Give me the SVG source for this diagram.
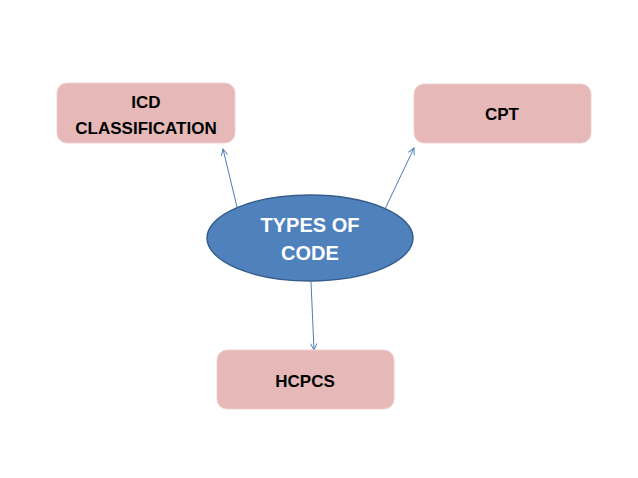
<svg xmlns="http://www.w3.org/2000/svg" width="638" height="478" viewBox="0 0 638 478">
<style>
.box{fill:#e6b9b8;stroke:#f0d0cf;stroke-width:1}
.lbl{font-family:"Liberation Sans",Arial,sans-serif;font-weight:bold;font-size:17px;fill:#000;text-anchor:middle}
.clbl{font-family:"Liberation Sans",Arial,sans-serif;font-weight:bold;font-size:20px;fill:#fff;text-anchor:middle}
.conn{stroke:#4a7ebb;stroke-width:1;fill:none;marker-end:url(#ah)}
</style>
<defs>
<marker id="ah" viewBox="0 0 10 10" refX="9" refY="5" markerWidth="8" markerHeight="8" markerUnits="userSpaceOnUse" orient="auto">
<path d="M1,1 L9,5 L1,9" fill="none" stroke="#4a7ebb" stroke-width="1.2"/>
</marker>
</defs>
<rect width="638" height="478" fill="#fff"/>
<g id="connectors">
<line class="conn" x1="237" y1="207" x2="223" y2="149"/>
<line class="conn" x1="385" y1="209" x2="414" y2="148"/>
<line class="conn" x1="311" y1="282" x2="314" y2="350"/>
</g>
<g id="icd">
<rect class="box" x="57" y="83" width="178" height="60" rx="10"/>
<text class="lbl" x="146" y="108">ICD</text>
<text class="lbl" x="146" y="134">CLASSIFICATION</text>
</g>
<g id="cpt">
<rect class="box" x="414" y="84" width="177" height="59" rx="10"/>
<text class="lbl" x="502" y="120">CPT</text>
</g>
<g id="types">
<ellipse cx="310" cy="238" rx="103" ry="43" fill="#4f81bd" stroke="#385d8a" stroke-width="1.5"/>
<text class="clbl" x="310" y="232">TYPES OF</text>
<text class="clbl" x="310" y="260">CODE</text>
</g>
<g id="hcpcs">
<rect class="box" x="217" y="350" width="177" height="59" rx="10"/>
<text class="lbl" x="305" y="387">HCPCS</text>
</g>
</svg>
